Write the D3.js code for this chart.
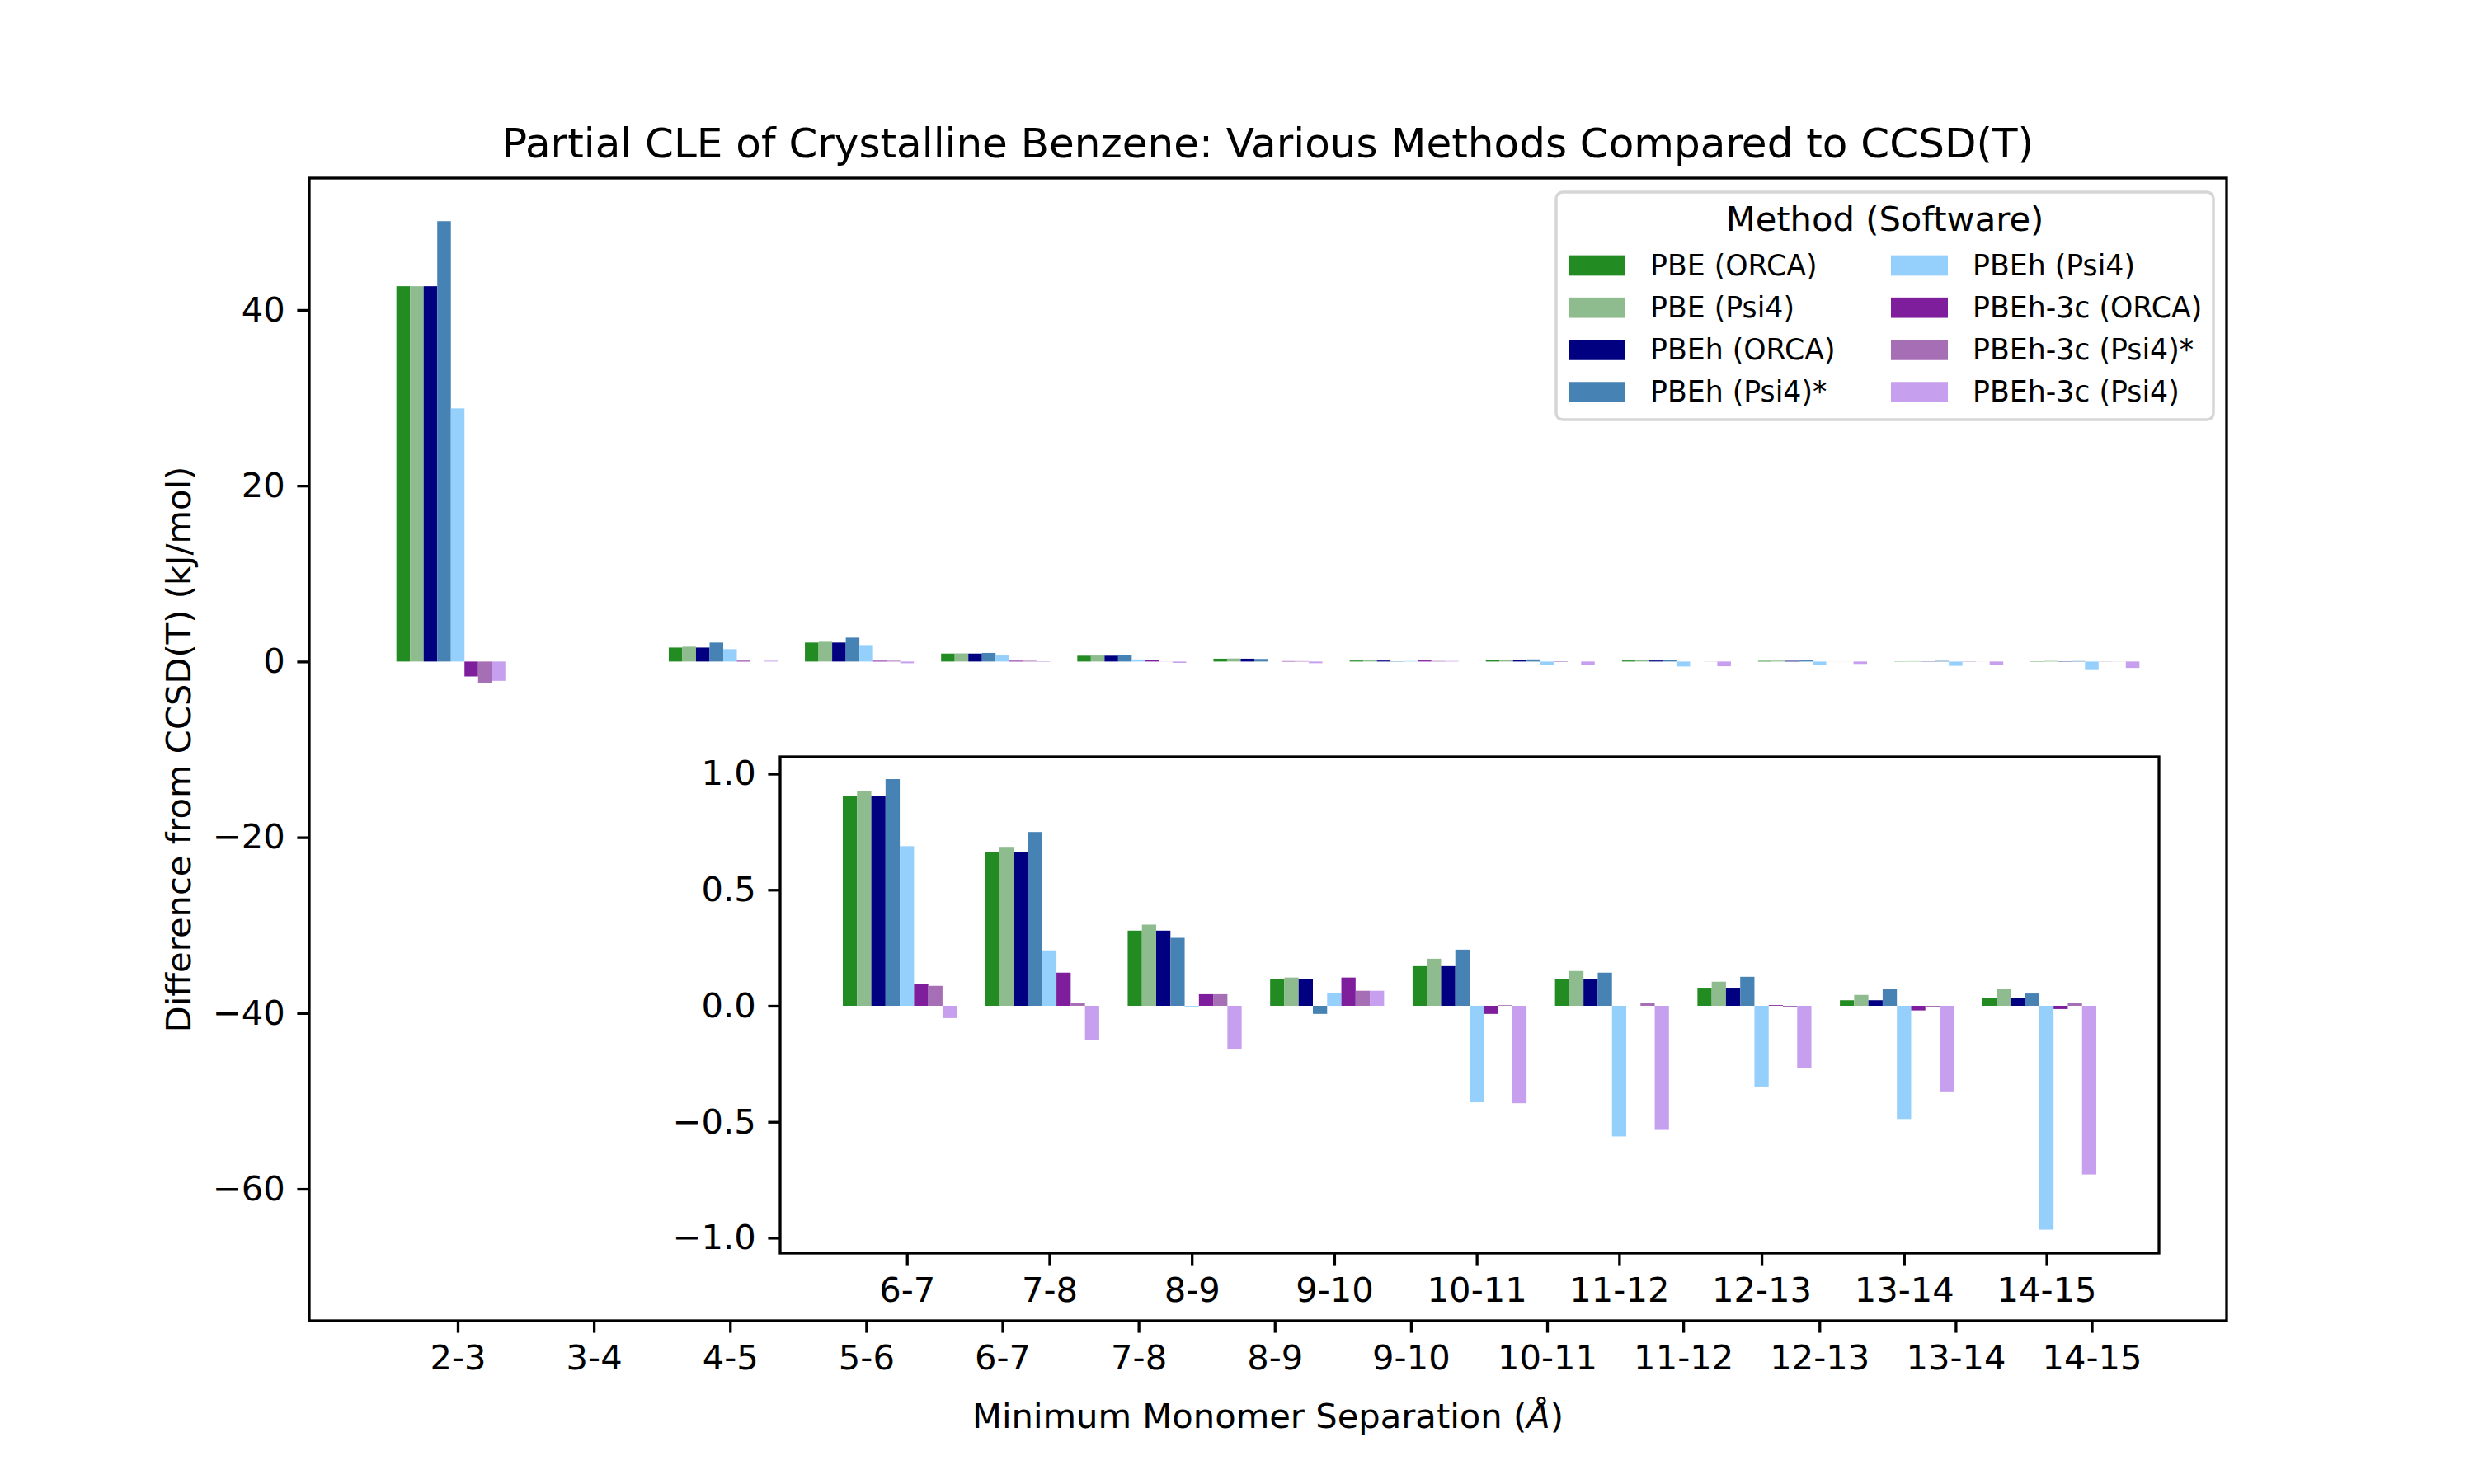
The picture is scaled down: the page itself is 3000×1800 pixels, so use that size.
<!DOCTYPE html>
<html>
<head>
<meta charset="utf-8">
<script src="https://cdn.jsdelivr.net/npm/d3@7"></script>
<style>
  body { margin: 0; background: #fff; }
  svg text { font-family: "DejaVu Sans", sans-serif; fill: #000; }
</style>
</head>
<body>
<svg id="chart" width="3000" height="1800"></svg>
<script>
// separations (Å) and one array per method, difference from CCSD(T) in kJ/mol
const separations = ["2-3", "3-4", "4-5", "5-6", "6-7", "7-8", "8-9", "9-10", "10-11", "11-12", "12-13", "13-14", "14-15"];

const pbeOrca      = [42.7, null, 1.59, 2.16, 0.905, 0.664, 0.324, 0.114, 0.171, 0.117, 0.078, 0.024, 0.032];
const pbePsi4      = [42.7, null, 1.69, 2.25, 0.926, 0.685, 0.350, 0.122, 0.203, 0.150, 0.104, 0.047, 0.071];
const pbehOrca     = [42.7, null, 1.59, 2.16, 0.905, 0.664, 0.324, 0.114, 0.171, 0.117, 0.078, 0.024, 0.032];
const pbehPsi4Star = [50.1, null, 2.16, 2.72, 0.977, 0.749, 0.293, -0.035, 0.242, 0.143, 0.125, 0.071, 0.053];
const pbehPsi4     = [28.8, null, 1.41, 1.875, 0.688, 0.239, -0.003, 0.057, -0.416, -0.563, -0.348, -0.488, -0.965];
const pbeh3cOrca   = [-1.7, null, 0.09, 0.09, 0.093, 0.143, 0.050, 0.122, -0.035, 0.0, 0.003, -0.020, -0.014];
const pbeh3cPsi4Star = [-2.4, null, 0.0, 0.09, 0.086, 0.011, 0.050, 0.065, 0.003, 0.014, -0.006, -0.006, 0.011];
const pbeh3cPsi4   = [-2.2, null, 0.09, -0.19, -0.053, -0.149, -0.185, 0.065, -0.420, -0.535, -0.270, -0.369, -0.727];

const seriesNames = ["PBE (ORCA)", "PBE (Psi4)", "PBEh (ORCA)", "PBEh (Psi4)*", "PBEh (Psi4)", "PBEh-3c (ORCA)", "PBEh-3c (Psi4)*", "PBEh-3c (Psi4)"];
const seriesValues = [pbeOrca, pbePsi4, pbehOrca, pbehPsi4Star, pbehPsi4, pbeh3cOrca, pbeh3cPsi4Star, pbeh3cPsi4];
const seriesColors = ["#228B22", "#8FBC8F", "#000080", "#4682B4", "#95d0fc", "#7e1e9c", "#a66fb5", "#c79fef"];

const mainYTicks = [-60, -40, -20, 0, 20, 40];
const insetYTicks = [-1.0, -0.5, 0.0, 0.5, 1.0];
const insetStart = 4; // inset shows 6-7 onwards

const fs = 41.67;          // 10pt at 300 dpi
const barW = 0.1;

const svg = d3.select("#chart");
svg.append("rect").attr("width", 3000).attr("height", 1800).attr("fill", "#fff");

const fmtMinus = v => String(v).replace("-", "\u2212");

function drawPanel(g, cats, vals, box, xDomain, yDomain, yTicks, yFmt) {
  const x = d3.scaleLinear().domain(xDomain).range([box.left, box.right]);
  const y = d3.scaleLinear().domain(yDomain).range([box.bottom, box.top]);

  g.append("rect")
    .attr("x", box.left).attr("y", box.top)
    .attr("width", box.right - box.left).attr("height", box.bottom - box.top)
    .attr("fill", "#fff");

  vals.forEach((arr, j) => {
    const data = arr.map((v, i) => ({ i, v })).filter(d => d.v !== null);
    g.append("g").selectAll("rect")
      .data(data)
      .enter()
      .append("rect")
      .attr("x", d => x(d.i + (j - 4) * barW - barW / 2))
      .attr("width", d => x(barW) - x(0))
      .attr("y", d => Math.min(y(d.v), y(0)))
      .attr("height", d => Math.abs(y(d.v) - y(0)))
      .attr("fill", seriesColors[j]);
  });

  const xAxis = d3.axisBottom(x)
    .tickValues(d3.range(cats.length))
    .tickFormat(i => cats[i])
    .tickSize(14.6)
    .tickPadding(14.6);

  const gx = g.append("g").attr("transform", `translate(0,${box.bottom})`).call(xAxis);
  gx.select(".domain").remove();
  gx.selectAll(".tick line").attr("stroke", "#000").attr("stroke-width", 3.3);
  gx.selectAll(".tick text").style("font-size", fs + "px");

  const yAxis = d3.axisLeft(y)
    .tickValues(yTicks)
    .tickFormat(yFmt)
    .tickSize(14.6)
    .tickPadding(14.6);

  const gy = g.append("g").attr("transform", `translate(${box.left},0)`).call(yAxis);
  gy.select(".domain").remove();
  gy.selectAll(".tick line").attr("stroke", "#000").attr("stroke-width", 3.3);
  gy.selectAll(".tick text").style("font-size", fs + "px");

  g.append("rect")
    .attr("x", box.left).attr("y", box.top)
    .attr("width", box.right - box.left).attr("height", box.bottom - box.top)
    .attr("fill", "none")
    .attr("stroke", "#000")
    .attr("stroke-width", 3.3);
}

// main axes
const mainBox = { left: 375, right: 2700, top: 216, bottom: 1602 };
drawPanel(svg.append("g"), separations, seriesValues, mainBox,
  [-1.09, 12.99], [-75, 55], mainYTicks, v => fmtMinus(v));

// title and axis labels
svg.append("text")
  .attr("x", (mainBox.left + mainBox.right) / 2)
  .attr("y", 191)
  .attr("text-anchor", "middle")
  .style("font-size", "50px")
  .text("Partial CLE of Crystalline Benzene: Various Methods Compared to CCSD(T)");

const xLabel = svg.append("text")
  .attr("x", (mainBox.left + mainBox.right) / 2)
  .attr("y", 1732)
  .attr("text-anchor", "middle")
  .style("font-size", fs + "px");
xLabel.append("tspan").text("Minimum Monomer Separation (");
xLabel.append("tspan").style("font-style", "italic").text("Å");
xLabel.append("tspan").text(")");

svg.append("text")
  .attr("transform", `translate(231,${(mainBox.top + mainBox.bottom) / 2}) rotate(-90)`)
  .attr("text-anchor", "middle")
  .style("font-size", fs + "px")
  .text("Difference from CCSD(T) (kJ/mol)");

// legend
const legend = svg.append("g").attr("transform", "translate(1887,233)");
legend.append("rect")
  .attr("width", 797).attr("height", 276)
  .attr("rx", 8).attr("ry", 8)
  .attr("fill", "#fff").attr("fill-opacity", 0.8)
  .attr("stroke", "#d6d6d6").attr("stroke-width", 3.5);

legend.append("text")
  .attr("x", 398.5).attr("y", 47)
  .attr("text-anchor", "middle")
  .style("font-size", fs + "px")
  .text("Method (Software)");

const rowGap = 51.2, colGap = 391;
const items = legend.selectAll(".item")
  .data(seriesNames)
  .enter()
  .append("g")
  .attr("class", "item")
  .attr("transform", (d, k) => `translate(${15 + Math.floor(k / 4) * colGap},${89 + (k % 4) * rowGap})`);

items.append("rect")
  .attr("x", 0).attr("y", -12.35)
  .attr("width", 69).attr("height", 24.7)
  .attr("fill", (d, k) => seriesColors[k]);

items.append("text")
  .attr("x", 99).attr("y", 11.6)
  .style("font-size", "34.72px")
  .text(d => d);

// inset axes (zoom on 6-7 .. 14-15)
const insetBox = { left: 946, right: 2618, top: 918, bottom: 1520 };
drawPanel(svg.append("g"), separations.slice(insetStart),
  seriesValues.map(a => a.slice(insetStart)), insetBox,
  [-0.89, 8.79], [-1.066, 1.073], insetYTicks, v => fmtMinus(v.toFixed(1)));
</script>
</body>
</html>
